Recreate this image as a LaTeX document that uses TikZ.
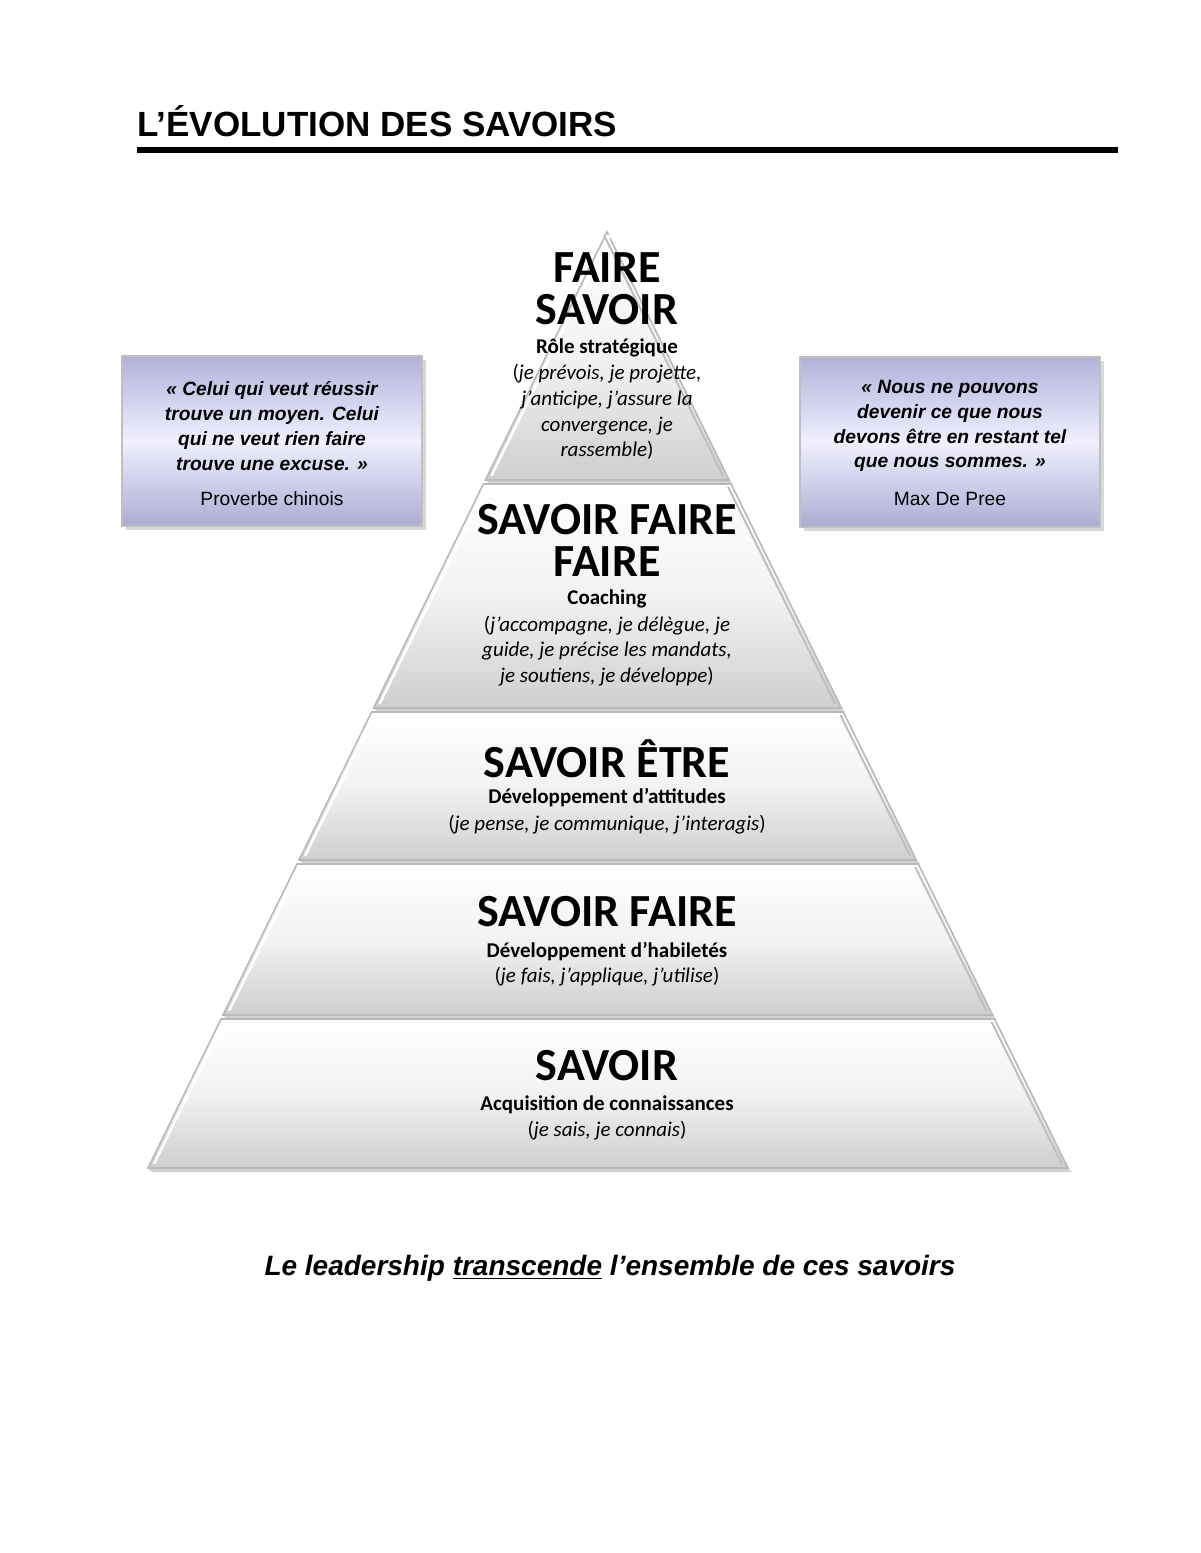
\documentclass[tikz,border=0pt]{standalone}
\usepackage{fontspec}
\setmainfont{Carlito}
\newfontfamily\arial{Liberation Sans}
\usetikzlibrary{shadows}
\begin{document}
\begin{tikzpicture}[x=0.5pt,y=-0.5pt,
  tier/.style={draw=gray!55,line width=0.8pt,top color=white,bottom color=gray!38,middle color=gray!10},
  big/.style={font=\fontsize{23}{21}\selectfont\bfseries,align=center},
  sub/.style={font=\fontsize{10.5}{13}\selectfont\bfseries},
  ital/.style={font=\fontsize{10.5}{12.8}\selectfont\itshape,align=center},
  qbox/.style={draw=gray!50,line width=0.6pt,top color=blue!35!gray!45,bottom color=blue!30!gray!50,middle color=blue!6!white,minimum width=150pt,minimum height=85pt,drop shadow={shadow xshift=2pt,shadow yshift=-2pt,fill=gray!60}},
  qtext/.style={font=\arial\fontsize{9.6}{12.4}\selectfont\bfseries\itshape,align=center},
  qauth/.style={font=\arial\fontsize{9.6}{12}\selectfont}]
\useasboundingbox (0,0) rectangle (1200,1553);
\fill[white] (0,0) rectangle (1200,1553);
% title
\node[anchor=base west,font=\arial\fontsize{17.5}{20}\selectfont\bfseries,inner sep=0] (title) at (137,136) {L’ÉVOLUTION DES SAVOIRS};
\draw[line width=3pt] (137,150) -- (1118,150);
% pyramid tiers
\def\lx#1{607-0.4904*(#1-232)}
\def\rx#1{607+0.4925*(#1-232)}
\foreach \t/\b in {232/480,484/708,712/860,864/1015,1019/1168}{
  \pgfmathsetmacro\ltop{607-0.4904*(\t-232)}
  \pgfmathsetmacro\rtop{607+0.4925*(\t-232)}
  \pgfmathsetmacro\lbot{607-0.4904*(\b-232)}
  \pgfmathsetmacro\rbot{607+0.4925*(\b-232)}
  \fill[gray!35] (\lbot+4,\b+4) -- (\rbot+4,\b+4) -- (\rbot,\b) -- (\lbot,\b) -- cycle;
  \draw[tier] (\ltop,\t) -- (\rtop,\t) -- (\rbot,\b) -- (\lbot,\b) -- cycle;
  \draw[white,line width=1.2pt] (\ltop+3,\t+3) -- (\lbot+6,\b-4);
  \draw[gray!50,line width=1pt] (\rtop-3,\t+3) -- (\rbot-6,\b-4);
}
% tier 1
\node[big] (t1) at (607,289) {FAIRE\\SAVOIR};
\node[sub] (s1) at (607,348) {Rôle stratégique};
\node[ital] (i1) at (607,412) {{\upshape(}je prévois, je projette,\\j’anticipe, j’assure la\\convergence, je\\rassemble{\upshape)}};
% tier 2
\node[big] (t2) at (607,540) {SAVOIR FAIRE\\FAIRE};
\node[sub] (s2) at (607,599) {Coaching};
\node[ital] (i2) at (607,651) {{\upshape(}j’accompagne, je délègue, je\\guide, je précise les mandats,\\je soutiens, je développe{\upshape)}};
% tier 3
\node[big] (t3) at (607,759) {SAVOIR ÊTRE};
\node[sub] (s3) at (607,798) {Développement d’attitudes};
\node[ital] (i3) at (607,825) {{\upshape(}je pense, je communique, j’interagis{\upshape)}};
% tier 4
\node[big] (t4) at (607,912) {SAVOIR FAIRE};
\node[sub] (s4) at (607,951) {Développement d’habiletés};
\node[ital] (i4) at (607,977) {{\upshape(}je fais, j’applique, j’utilise{\upshape)}};
% tier 5
\node[big] (t5) at (607,1066) {SAVOIR};
\node[sub] (s5) at (607,1105) {Acquisition de connaissances};
\node[ital] (i5) at (607,1131) {{\upshape(}je sais, je connais{\upshape)}};
% quote boxes
\node[qbox] (qb1) at (272,441) {};
\node[qtext] (q1) at (272,426) {« Celui qui veut réussir\\trouve un moyen. Celui\\qui ne veut rien faire\\trouve une excuse. »};
\node[qauth] (a1) at (272,499) {Proverbe chinois};
\node[qbox] (qb2) at (950,442) {};
\node[qtext] (q2) at (950,426) {« Nous ne pouvons\\devenir ce que nous\\devons être en restant tel\\que nous sommes. »};
\node[qauth] (a2) at (950,499) {Max De Pree};
% bottom line
\node[font=\arial\fontsize{14}{16}\selectfont\bfseries\itshape] (bt) at (610,1268) {Le leadership \underline{transcende} l’ensemble de ces savoirs};
\end{tikzpicture}
\end{document}
